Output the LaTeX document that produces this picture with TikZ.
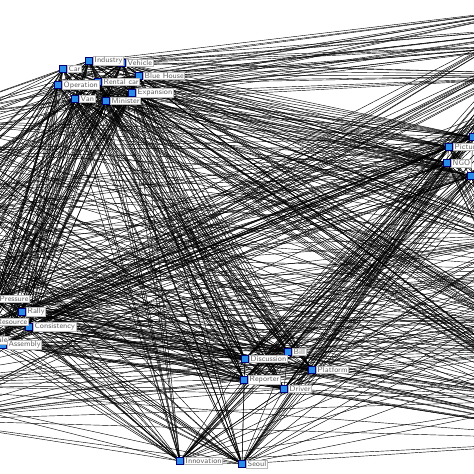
\documentclass[tikz,border=0pt]{standalone}
\usetikzlibrary{positioning}
\pgfdeclarelayer{bg}
\pgfsetlayers{bg,main}
\definecolor{kwblue}{RGB}{40,140,232}
\tikzset{
  kw/.style={draw=blue!45!black, fill=kwblue, minimum size=0.17cm, inner sep=0pt, line width=0.3pt},
  kwlabel/.style={draw=gray!55, fill=white, text=gray!75!black, inner sep=0.7pt,
    font=\sffamily\fontsize{5.5}{6}\selectfont},
  link/.style={line width=0.3pt, black},
}
\begin{document}
\begin{tikzpicture}[x=0.025cm, y=-0.025cm]
    \useasboundingbox (0,0) rectangle (474,474);
    \clip (0,0) rectangle (474,474);

    % top cluster
    \node[kw] (car) at (63,69) {};
    \node[kw] (ind) at (89,61) {};
    \node[kw] (veh) at (122,63) {};
    \node[kw] (blue) at (139,76) {};
    \node[kw] (oper) at (58,85) {};
    \node[kw] (rent) at (98,82) {};
    \node[kw] (expa) at (132,93) {};
    \node[kw] (van) at (75,99) {};
    \node[kw] (mini) at (106,101) {};

    % right cluster
    \node[kw] (rA) at (473,137) {};
    \node[kw] (pic) at (449,147) {};
    \node[kw] (ngo) at (447,163) {};
    \node[kw] (rB) at (471,176) {};

    % left cluster
    \node[kw] (press) at (-6,299) {};
    \node[kw] (rally) at (22,312) {};
    \node[kw] (resou) at (-9,322) {};
    \node[kw] (cons) at (29,327) {};
    \node[kw] (scale) at (-16,340) {};
    \node[kw] (asm) at (3,345) {};

    % bottom cluster
    \node[kw] (disc) at (245,359) {};
    \node[kw] (bill) at (288,352) {};
    \node[kw] (plat) at (312,370) {};
    \node[kw] (repo) at (244,380) {};
    \node[kw] (driv) at (284,389) {};
    \node[kw] (inno) at (180,461) {};
    \node[kw] (seoul) at (242,464) {};

    % labels
    \node[kwlabel, right=0.6pt of car] {Car};
    \node[kwlabel, right=0.6pt of ind] {Industry};
    \node[kwlabel, right=0.6pt of veh] {Vehicle};
    \node[kwlabel, right=0.6pt of blue] {Blue House};
    \node[kwlabel, right=0.6pt of oper] {Operation};
    \node[kwlabel, right=0.6pt of rent] {Rental car};
    \node[kwlabel, right=0.6pt of expa] {Expansion};
    \node[kwlabel, right=0.6pt of van] {Van};
    \node[kwlabel, right=0.6pt of mini] {Minister};
    \node[kwlabel, right=0.6pt of pic] {Picture};
    \node[kwlabel, right=0.6pt of ngo] {NGO};
    \node[kwlabel, right=0.6pt of press] {Pressure};
    \node[kwlabel, right=0.6pt of rally] {Rally};
    \node[kwlabel, right=0.6pt of resou] {Resource};
    \node[kwlabel, right=0.6pt of cons] {Consistency};
    \node[kwlabel, right=0.6pt of scale] {Scale};
    \node[kwlabel, right=0.6pt of asm] {Assembly};
    \node[kwlabel, right=0.6pt of disc] {Discussion};
    \node[kwlabel, right=0.6pt of bill] {Bill};
    \node[kwlabel, right=0.6pt of plat] {Platform};
    \node[kwlabel, right=0.6pt of repo] {Reporter};
    \node[kwlabel, right=0.6pt of driv] {Driver};
    \node[kwlabel, right=0.6pt of inno] {Innovation};
    \node[kwlabel, right=0.6pt of seoul] {Seoul};

    % keywords beyond the frame
    \coordinate (oR1) at (560,5);
    \coordinate (oR1b) at (610,22);
    \coordinate (oR2) at (540,45);
    \coordinate (oR2b) at (590,75);
    \coordinate (oR3) at (530,235);
    \coordinate (oR3b) at (570,270);
    \coordinate (oR4) at (520,320);
    \coordinate (oR4b) at (550,350);
    \coordinate (oR5) at (560,400);
    \coordinate (oR5b) at (610,440);
    \coordinate (oL1) at (-80,120);
    \coordinate (oL1b) at (-110,150);
    \coordinate (oL2) at (-60,190);
    \coordinate (oL2b) at (-95,220);
    \coordinate (oL3) at (-60,255);
    \coordinate (oL3b) at (-75,280);
    \coordinate (oL4) at (-80,420);
    \coordinate (oL4b) at (-120,385);

    \begin{pgfonlayer}{bg}
    \foreach \a [count=\i] in {car,ind,veh,blue,oper,rent,expa,van,mini,rA,pic,ngo,rB,press,rally,resou,cons,scale,asm,disc,bill,plat,repo,driv,inno,seoul,oR1,oR1b,oR2,oR2b,oR3,oR3b,oR4,oR4b,oR5,oR5b,oL1,oL1b,oL2,oL2b,oL3,oL3b,oL4,oL4b}{
      \foreach \b [count=\j] in {car,ind,veh,blue,oper,rent,expa,van,mini,rA,pic,ngo,rB,press,rally,resou,cons,scale,asm,disc,bill,plat,repo,driv,inno,seoul,oR1,oR1b,oR2,oR2b,oR3,oR3b,oR4,oR4b,oR5,oR5b,oL1,oL1b,oL2,oL2b,oL3,oL3b,oL4,oL4b}{
        \ifnum\j>\i
          \ifnum\i>26 \ifnum\i<31 \ifnum\j>36 \else \draw[link] (\a) -- (\b); \fi
          \else \draw[link] (\a) -- (\b); \fi
          \else \draw[link] (\a) -- (\b); \fi
        \fi
      }
    }
    \end{pgfonlayer}
\end{tikzpicture}
\end{document}
